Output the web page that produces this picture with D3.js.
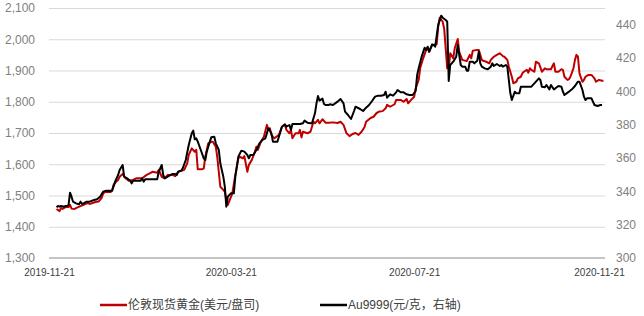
<!DOCTYPE html>
<html lang="zh">
<head>
  <meta charset="UTF-8">
  <style>
    body { margin: 0; background: #fff; }
    svg { display: block; font-family: "Liberation Sans", Arial, "Noto Sans CJK SC", sans-serif; }
    .grid line { stroke: #d9d9d9; }
    .grid path { display: none; }
    .ylab path, .ylab line { display: none; }
    .ylab text { fill: #808080; font-size: 12px; }
    .xlab path, .xlab line { display: none; }
    .xlab text { fill: #404040; font-size: 10px; }
    .fn { fill: none; stroke-width: 2; stroke-linejoin: round; }
    .legend text { fill: #404040; font-size: 12px; }
  </style>
</head>
<body>
  <svg id="chart" width="644" height="316"></svg>
  <script src="https://cdnjs.cloudflare.com/ajax/libs/d3/7.8.5/d3.min.js"></script>
  <script>
    // tick labels
    const leftTicks = [1300, 1400, 1500, 1600, 1700, 1800, 1900, 2000, 2100]
    const rightTicks = [300, 320, 340, 360, 380, 400, 420, 440]
    const xTicks = ['2019-11-21', '2020-03-21', '2020-07-21', '2020-11-21']
    const seriesNames = ['伦敦现货黄金(美元/盘司)', 'Au9999(元/克，右轴)']

    // 伦敦现货黄金 (left axis)
    const londonDates = [
      '2019-11-26','2019-11-28','2019-11-29','2019-11-30','2019-12-02','2019-12-04','2019-12-05','2019-12-06',
      '2019-12-08','2019-12-10','2019-12-12','2019-12-14','2019-12-15','2019-12-17','2019-12-18','2019-12-20',
      '2019-12-22','2019-12-24','2019-12-25','2019-12-26','2019-12-27','2019-12-28','2020-01-01','2020-01-02',
      '2020-01-03','2020-01-05','2020-01-06','2020-01-07','2020-01-09','2020-01-11','2020-01-13','2020-01-16',
      '2020-01-18','2020-01-22','2020-01-25','2020-01-27','2020-01-29','2020-02-01','2020-02-02','2020-02-04',
      '2020-02-06','2020-02-08','2020-02-11','2020-02-13','2020-02-15','2020-02-17','2020-02-19','2020-02-21',
      '2020-02-22','2020-02-24','2020-02-26','2020-02-27','2020-02-28','2020-03-02','2020-03-03','2020-03-04',
      '2020-03-06','2020-03-08','2020-03-09','2020-03-11','2020-03-12','2020-03-14','2020-03-16','2020-03-17',
      '2020-03-18','2020-03-19','2020-03-22','2020-03-24','2020-03-26','2020-03-27','2020-03-29','2020-03-30',
      '2020-04-01','2020-04-02','2020-04-04','2020-04-06','2020-04-07','2020-04-08','2020-04-10','2020-04-12',
      '2020-04-14','2020-04-15','2020-04-16','2020-04-17','2020-04-19','2020-04-22','2020-04-24','2020-04-26',
      '2020-04-27','2020-04-29','2020-04-30','2020-05-01','2020-05-03','2020-05-05','2020-05-06','2020-05-07',
      '2020-05-08','2020-05-11','2020-05-13','2020-05-14','2020-05-15','2020-05-16','2020-05-18','2020-05-19',
      '2020-05-21','2020-05-23','2020-05-25','2020-05-28','2020-05-31','2020-06-02','2020-06-04','2020-06-06',
      '2020-06-08','2020-06-10','2020-06-12','2020-06-14','2020-06-16','2020-06-18','2020-06-19','2020-06-22',
      '2020-06-24','2020-06-26','2020-06-28','2020-06-30','2020-07-02','2020-07-03','2020-07-05','2020-07-08',
      '2020-07-09','2020-07-12','2020-07-14','2020-07-16','2020-07-17','2020-07-19','2020-07-21','2020-07-22',
      '2020-07-24','2020-07-25','2020-07-27','2020-07-29','2020-07-30','2020-07-31','2020-08-02','2020-08-03',
      '2020-08-05','2020-08-06','2020-08-07','2020-08-09','2020-08-10','2020-08-12','2020-08-13','2020-08-14',
      '2020-08-16','2020-08-17','2020-08-19','2020-08-20','2020-08-22','2020-08-25','2020-08-26','2020-08-27',
      '2020-08-28','2020-08-29','2020-09-01','2020-09-02','2020-09-04','2020-09-05','2020-09-07','2020-09-09',
      '2020-09-10','2020-09-12','2020-09-14','2020-09-16','2020-09-18','2020-09-19','2020-09-21','2020-09-22',
      '2020-09-24','2020-09-25','2020-09-27','2020-09-28','2020-09-30','2020-10-01','2020-10-02','2020-10-04',
      '2020-10-05','2020-10-06','2020-10-07','2020-10-09','2020-10-10','2020-10-12','2020-10-13','2020-10-14',
      '2020-10-16','2020-10-17','2020-10-20','2020-10-22','2020-10-23','2020-10-25','2020-10-27','2020-10-28',
      '2020-10-29','2020-10-31','2020-11-01','2020-11-02','2020-11-04','2020-11-05','2020-11-06','2020-11-07',
      '2020-11-08','2020-11-10','2020-11-11','2020-11-12','2020-11-14','2020-11-16','2020-11-18','2020-11-19',
      '2020-11-21','2020-11-23','2020-11-24'
    ]
    const londonValues = [
      1457,1450,1460,1457,1463,1463,1470,1458,
      1457,1462,1466,1470,1473,1476,1473,1476,
      1479,1481,1486,1492,1505,1511,1511,1516,
      1534,1546,1550,1560,1569,1555,1547,1550,
      1555,1555,1566,1571,1576,1573,1582,1560,
      1555,1566,1566,1562,1576,1579,1582,1603,
      1630,1651,1640,1646,1584,1584,1587,1624,
      1667,1672,1672,1656,1622,1528,1518,1512,
      1486,1470,1507,1566,1619,1624,1619,1626,
      1576,1598,1614,1640,1656,1646,1672,1688,
      1726,1710,1715,1694,1683,1694,1720,1726,
      1710,1699,1710,1683,1699,1699,1710,1686,
      1704,1699,1704,1720,1736,1731,1742,1731,
      1744,1733,1733,1734,1732,1736,1726,1699,
      1690,1697,1700,1694,1704,1719,1736,1748,
      1752,1764,1769,1770,1779,1790,1784,1792,
      1806,1806,1800,1809,1795,1806,1816,1843,
      1870,1907,1939,1966,1971,1960,1982,1982,
      1984,2040,2069,2056,2033,1907,1907,1955,
      1939,1971,2001,1960,1934,1930,1940,1950,
      1939,1963,1966,1966,1934,1931,1928,1923,
      1934,1944,1950,1955,1946,1944,1934,1912,
      1880,1859,1864,1875,1880,1891,1896,1902,
      1893,1907,1902,1896,1928,1923,1910,1896,
      1907,1904,1904,1923,1896,1896,1904,1902,
      1880,1870,1872,1880,1907,1934,1950,1944,
      1891,1864,1870,1880,1886,1886,1875,1864,
      1870,1867,1867
    ]

    // Au9999 (right axis)
    const auDates = [
      '2019-11-26','2019-11-27','2019-11-28','2019-11-29','2019-12-01','2019-12-02','2019-12-03','2019-12-04',
      '2019-12-05','2019-12-06','2019-12-07','2019-12-09','2019-12-11','2019-12-12','2019-12-13','2019-12-14',
      '2019-12-16','2019-12-18','2019-12-21','2019-12-23','2019-12-25','2019-12-27','2019-12-29','2020-01-01',
      '2020-01-02','2020-01-04','2020-01-06','2020-01-07','2020-01-09','2020-01-10','2020-01-12','2020-01-14',
      '2020-01-15','2020-01-16','2020-01-18','2020-01-21','2020-01-22','2020-01-23','2020-01-24','2020-01-26',
      '2020-01-29','2020-02-01','2020-02-02','2020-02-04','2020-02-05','2020-02-06','2020-02-08','2020-02-11',
      '2020-02-13','2020-02-14','2020-02-15','2020-02-17','2020-02-18','2020-02-20','2020-02-22','2020-02-24',
      '2020-02-25','2020-02-26','2020-02-27','2020-02-28','2020-03-01','2020-03-03','2020-03-04','2020-03-05',
      '2020-03-07','2020-03-08','2020-03-10','2020-03-11','2020-03-13','2020-03-14','2020-03-16','2020-03-17',
      '2020-03-18','2020-03-19','2020-03-21','2020-03-23','2020-03-24','2020-03-26','2020-03-28','2020-03-30',
      '2020-04-01','2020-04-02','2020-04-03','2020-04-05','2020-04-07','2020-04-09','2020-04-11','2020-04-13',
      '2020-04-14','2020-04-15','2020-04-17','2020-04-18','2020-04-21','2020-04-22','2020-04-24','2020-04-26',
      '2020-04-27','2020-04-29','2020-04-30','2020-05-01','2020-05-04','2020-05-06','2020-05-08','2020-05-09',
      '2020-05-11','2020-05-13','2020-05-14','2020-05-16','2020-05-17','2020-05-18','2020-05-19','2020-05-21',
      '2020-05-22','2020-05-23','2020-05-25','2020-05-26','2020-05-28','2020-05-31','2020-06-02','2020-06-04',
      '2020-06-05','2020-06-07','2020-06-09','2020-06-11','2020-06-12','2020-06-15','2020-06-17','2020-06-19',
      '2020-06-21','2020-06-23','2020-06-25','2020-06-27','2020-06-29','2020-07-01','2020-07-02','2020-07-03',
      '2020-07-05','2020-07-07','2020-07-09','2020-07-10','2020-07-12','2020-07-14','2020-07-16','2020-07-18',
      '2020-07-20','2020-07-22','2020-07-23','2020-07-24','2020-07-26','2020-07-28','2020-07-29','2020-07-30',
      '2020-07-31','2020-08-02','2020-08-03','2020-08-04','2020-08-06','2020-08-08','2020-08-09','2020-08-11',
      '2020-08-12','2020-08-13','2020-08-14','2020-08-16','2020-08-18','2020-08-19','2020-08-21','2020-08-22',
      '2020-08-24','2020-08-25','2020-08-26','2020-08-27','2020-08-29','2020-08-30','2020-09-01','2020-09-02',
      '2020-09-03','2020-09-04','2020-09-06','2020-09-08','2020-09-10','2020-09-11','2020-09-12','2020-09-14',
      '2020-09-16','2020-09-17','2020-09-18','2020-09-20','2020-09-21','2020-09-22','2020-09-23','2020-09-24',
      '2020-09-26','2020-09-27','2020-09-29','2020-09-30','2020-10-02','2020-10-05','2020-10-07','2020-10-09',
      '2020-10-12','2020-10-13','2020-10-14','2020-10-16','2020-10-17','2020-10-19','2020-10-20','2020-10-22',
      '2020-10-23','2020-10-25','2020-10-27','2020-10-28','2020-10-29','2020-11-01','2020-11-03','2020-11-05',
      '2020-11-07','2020-11-08','2020-11-10','2020-11-11','2020-11-12','2020-11-13','2020-11-16','2020-11-18',
      '2020-11-20','2020-11-22','2020-11-23'
    ]
    const auValues = [
      330.4,331.2,330.8,331.2,330.8,331.2,331.2,331.8,
      339.2,336.8,333.8,332.8,332.2,333.8,332.4,332.8,
      333.8,333.8,334.8,335.2,336.8,339.8,340.4,340.4,
      340.4,345.8,349.8,352.8,355.8,348.8,347.8,346.4,
      344.8,346.4,346.4,346.4,347.8,345.8,347.2,347.2,
      347.2,347.2,351.6,355.8,349.8,347.8,348.8,350.4,
      350.4,349.8,351.8,352.4,353.8,358.8,367.8,374.8,
      376.4,371.2,371.8,369.8,364.8,359.8,358.8,363.8,
      369.8,372.4,372.8,368.8,364.8,356.8,348.8,342.8,
      330.8,336.8,338.8,338.8,348.8,360.8,364.4,363.8,
      361.8,359.8,361.8,361.8,364.8,368.8,370.8,371.8,
      374.8,377.8,374.8,369.8,369.8,372.8,378.8,380.2,
      378.8,379.8,376.8,380.4,380.4,380.4,380.8,382.4,
      381.2,380.8,380.8,386.8,392.8,397.2,394.4,395.6,
      392.4,391.8,391.8,392.2,391.8,393.8,395.4,392.8,
      387.8,385.8,383.4,388.2,390.8,389.4,388.2,390.2,
      391.8,394.2,396.8,397.4,397.4,397.8,399.8,396.2,
      398.2,397.4,399.4,400.8,399.4,399.4,398.2,397.8,
      397.8,400.2,409.8,413.8,420.8,426.2,424.8,426.8,
      423.8,428.2,427.8,426.8,439.8,445.4,444.2,442.8,
      441.8,406.2,415.8,417.8,420.8,427.8,415.8,414.8,
      414.8,412.4,412.4,417.8,417.8,416.8,418.4,423.8,
      416.8,414.8,413.8,413.2,414.8,416.8,415.2,416.4,
      415.2,415.8,414.8,415.8,414.8,406.8,398.8,394.8,
      399.8,398.8,398.8,402.8,402.8,402.8,402.8,404.8,
      407.8,406.8,402.8,402.4,403.8,401.2,403.8,401.2,
      401.8,403.2,402.8,399.8,397.8,399.8,401.2,403.2,
      405.8,405.8,400.8,396.8,394.8,395.8,395.8,391.8,
      391.2,391.8,391.8
    ]

    const colors = ['#c00000', '#000000']
    const plot = { left: 49, right: 605, top: 8, bottom: 258 }
    const parse = d3.timeParse('%Y-%m-%d')

    const xScale = d3.scaleTime()
      .domain([parse('2019-11-21'), parse('2020-11-25')])
      .range([plot.left, plot.right])
    const yLeft = d3.scaleLinear()
      .domain([1300, 2100])
      .range([plot.bottom, plot.top])
    const yRight = d3.scaleLinear()
      .domain([300, 450])
      .range([plot.bottom, plot.top])

    const svg = d3.select('#chart')

    // Grid
    svg.append('g')
        .attr('class', 'grid')
        .attr('transform', `translate(${plot.left}, 0)`)
        .call(d3.axisLeft(yLeft).tickValues(leftTicks.slice(1)).tickSize(-(plot.right - plot.left)).tickFormat(''))

    // bottom axis line
    svg.append('line')
        .attr('x1', plot.left).attr('x2', plot.right)
        .attr('y1', yLeft(1300)).attr('y2', yLeft(1300))
        .attr('stroke', '#898989')

    // Axis labels
    svg.append('g')
        .attr('class', 'ylab')
        .attr('transform', `translate(${plot.left}, 0)`)
        .call(d3.axisLeft(yLeft).tickValues(leftTicks).tickSize(0).tickPadding(14).tickFormat(d3.format(',')))
    svg.append('g')
        .attr('class', 'ylab')
        .attr('transform', `translate(${plot.right}, 0)`)
        .call(d3.axisRight(yRight).tickValues(rightTicks).tickSize(0).tickPadding(11))
    svg.append('g')
        .attr('class', 'xlab')
        .attr('transform', `translate(0, ${plot.bottom})`)
        .call(d3.axisBottom(xScale).tickValues(xTicks.map(parse)).tickSize(0).tickPadding(11)
          .tickFormat(d3.timeFormat('%Y-%m-%d')))

    // Lines
    const series = [
      { dates: londonDates, values: londonValues, y: yLeft },
      { dates: auDates, values: auValues, y: yRight },
    ]
    series.forEach((s, i) => {
      const pts = s.dates.map((d, j) => ({ date: parse(d), v: s.values[j] }))
      const line = d3.line()
        .x(d => xScale(d.date))
        .y(d => s.y(d.v))
      svg.append('path')
          .attr('class', 'fn')
          .attr('stroke', colors[i])
          .datum(pts)
          .attr('d', line)
    })

    // Legend
    const legendX = [100, 320]
    const legend = svg.append('g').attr('class', 'legend')
    seriesNames.forEach((name, i) => {
      legend.append('line')
          .attr('x1', legendX[i]).attr('x2', legendX[i] + 27)
          .attr('y1', 305).attr('y2', 305)
          .attr('stroke', colors[i]).attr('stroke-width', 2.5)
      legend.append('text')
          .attr('x', legendX[i] + 28).attr('y', 305)
          .attr('dy', '0.35em')
          .text(name)
    })
  </script>
</body>
</html>
